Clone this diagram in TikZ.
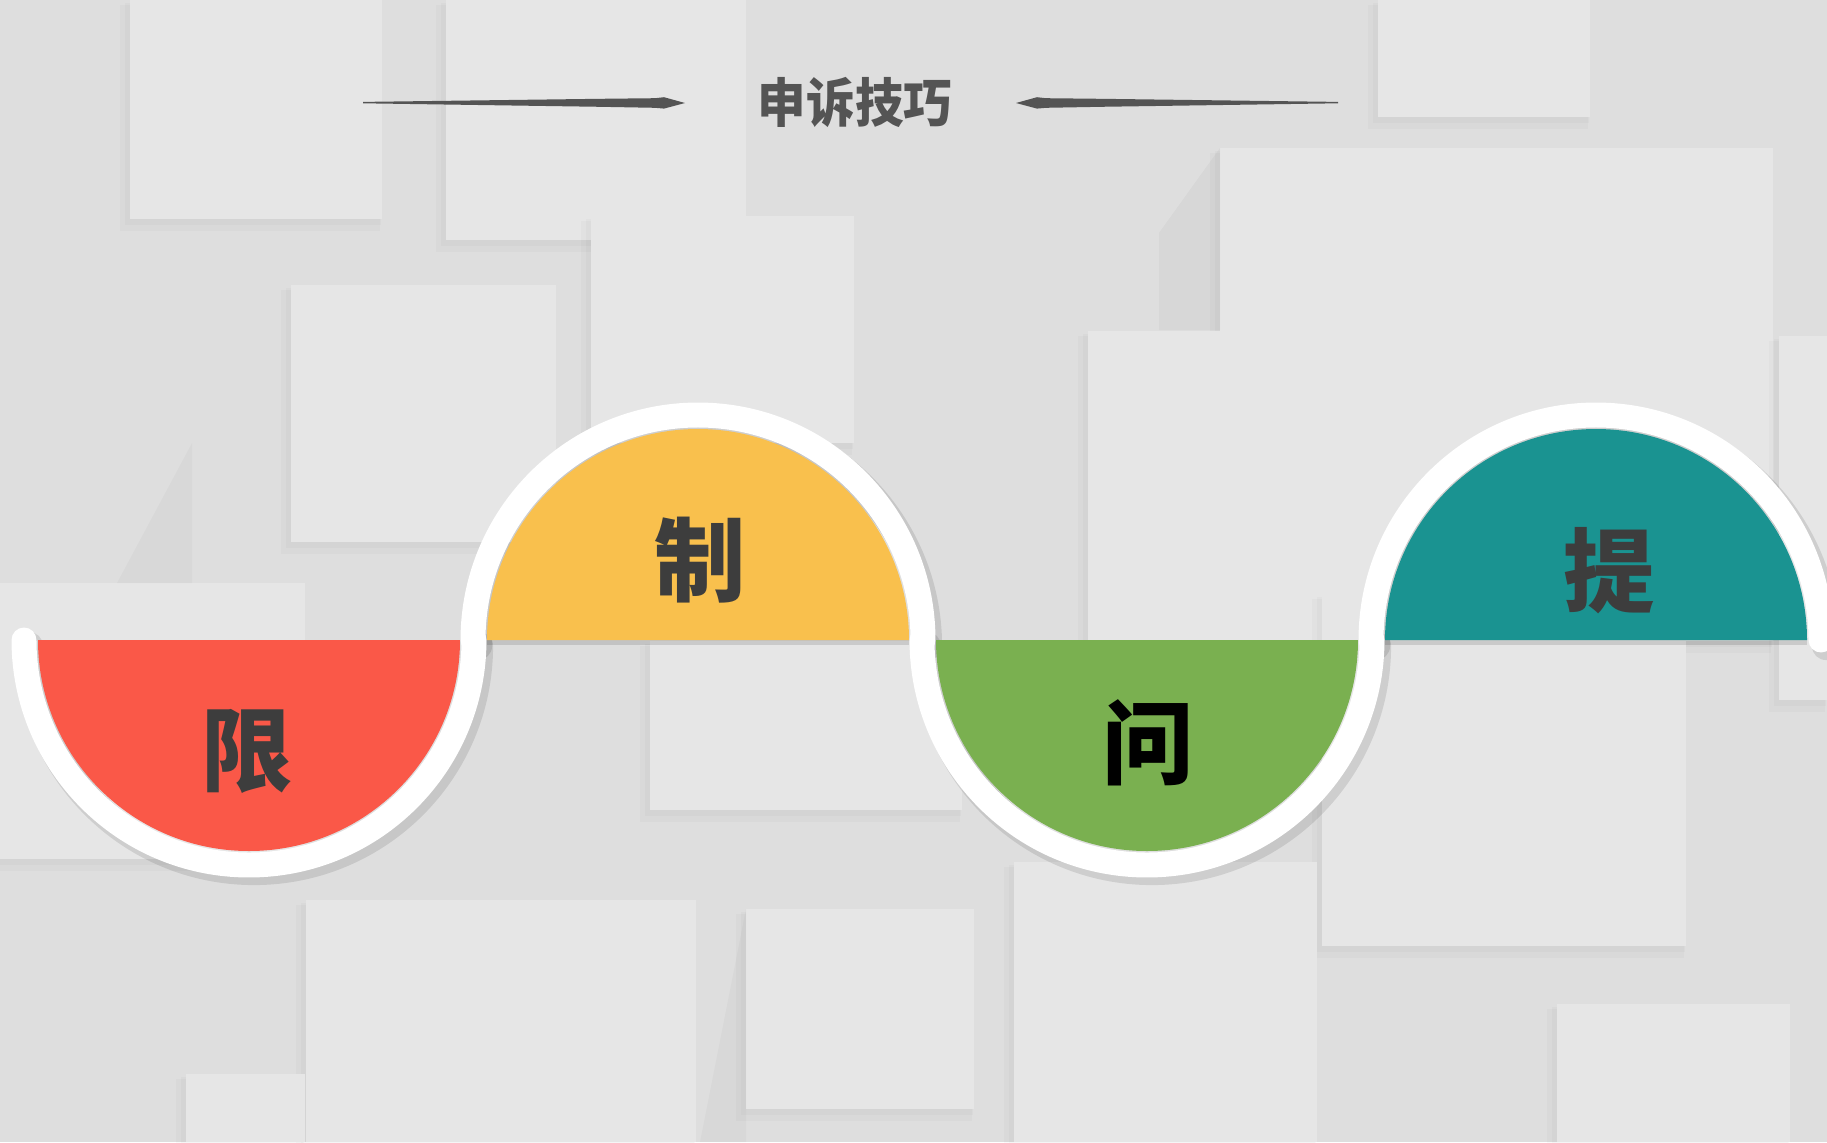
\documentclass[tikz,border=0pt]{standalone}
\usepackage{fontspec}
\usepackage[usenames,dvipsnames]{xcolor}
\newfontfamily\cjk{Noto Sans CJK SC}
\definecolor{bgbase}{HTML}{DEDEDE}
\definecolor{bglight}{HTML}{E6E6E6}
\definecolor{titlegray}{HTML}{545454}
\definecolor{inkgray}{HTML}{3D3D3D}
\definecolor{xianred}{HTML}{FA5848}
\definecolor{zhiyellow}{HTML}{F9C04D}
\definecolor{wengreen}{HTML}{7AB050}
\definecolor{titeal}{HTML}{1A9391}
\newcommand\titlebar{\fill[titlegray] (363,101.9) -- (600,98.8) -- (655,98.2) -- (664,97.2) -- (685,103) -- (664,108.6) -- (655,107.8) -- (600,106.8) -- (363,103.3) -- cycle;}

\begin{document}
\begin{tikzpicture}[x=0.01cm,y=-0.01cm,
    ring/.style={draw=white,line width=7.1pt,line cap=round},
    ringshadow/.style={draw=black,opacity=0.10,line width=8pt,line cap=round},
    letter/.style={font=\cjk\bfseries\fontsize{26}{26}\selectfont,text=inkgray}]

	\useasboundingbox (0,0) rectangle (1827,1142);
	\fill[bgbase] (0,0) rectangle (1827,1142);

	% background panels
	\foreach \xa/\ya/\xb/\yb in {130/0/382/219, 446/0/746/240, 591/216/854/443, 291/285/556/542,
	    0/583/305/859, 1220/148/1773/641, 1088/331/1297/641, 1378/0/1590/117, 1779/336/1827/700,
	    650/641/962/810, 1322/594/1686/946, 1014/862/1317/1142, 306/900/696/1142,
	    746/909/974/1109, 1557/1004/1790/1142, 186/1074/305/1142}
	  {\fill[black,opacity=0.02] (\xa-10,\ya+5) rectangle (\xb-2,\yb+12);
	   \fill[black,opacity=0.02] (\xa-5,\ya+3) rectangle (\xb-1,\yb+6);
	   \fill[bglight] (\xa,\ya) rectangle (\xb,\yb);}
	\fill[black,opacity=0.03] (1159,233) -- (1220,148) -- (1220,330) -- (1159,330) -- cycle;
	\fill[black,opacity=0.025] (192,443) -- (117,583) -- (192,583) -- cycle;
	\fill[black,opacity=0.025] (700,1142) -- (746,909) -- (746,1142) -- cycle;

	% title
	\titlebar
	\begin{scope}[shift={(1701,0)},xscale=-1]
	  \titlebar
	\end{scope}
	\node[font=\cjk\bfseries\fontsize{15}{15}\selectfont,text=titlegray,xscale=0.92] (title) at (855,102) {申诉技巧};

	% wave
	\foreach \cx/\side in {249/1, 698/-1, 1147/1, 1596/-1}
	  \draw[ringshadow] (\cx-220,646) arc[start angle=180,end angle=180-180*\side,radius=225];
	\foreach \cx in {698,1596}
	  \fill[black,opacity=0.12] (\cx-211,640) rectangle (\cx+211,645);
	\foreach \cx/\col/\side in {249/xianred/1, 698/zhiyellow/-1, 1147/wengreen/1, 1596/titeal/-1}
	  \fill[\col] (\cx-211,640) arc[start angle=180,end angle=180-180*\side,radius=211] -- cycle;
	\foreach \cx/\side in {249/1, 698/-1, 1147/1, 1596/-1}
	  \draw[ring] (\cx-225,640) arc[start angle=180,end angle=180-180*\side,radius=225];

	\node[letter] (xian) at (247,751) {限};
	\node[letter] (zhi) at (700,560) {制};
	\node[letter,text=black] (wen) at (1148,743) {问};
	\node[letter] (ti) at (1609,571) {提};

\end{tikzpicture}
\end{document}
